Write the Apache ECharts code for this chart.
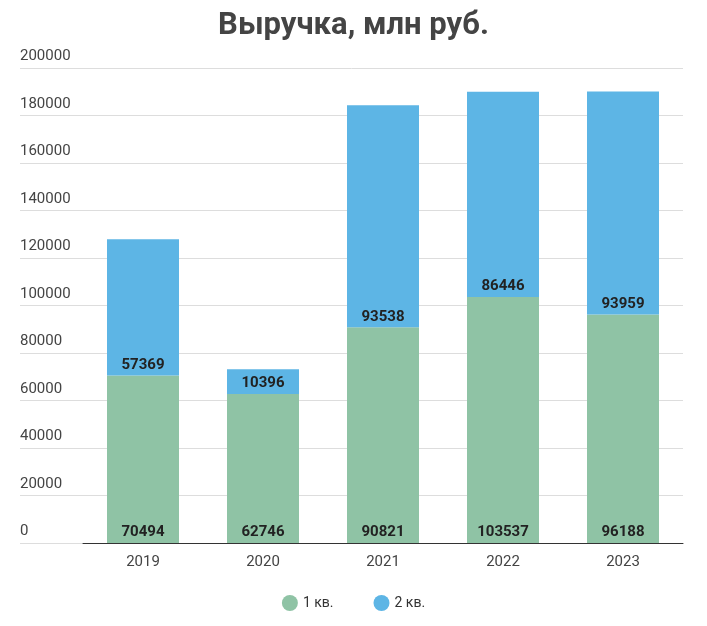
<!DOCTYPE html>
<html><head><meta charset="utf-8">
<script src="https://cdn.jsdelivr.net/npm/echarts@6/dist/echarts.min.js"></script>
<style>html,body{margin:0;background:#fff}#c{width:707px;height:626px}</style>
</head><body><div id="c"></div>
<script>
var years = ['2019', '2020', '2021', '2022', '2023'];
var q1 = [70494, 62746, 90821, 103537, 96188];
var q2 = [57369, 10396, 93538, 86446, 93959];

var chart = echarts.init(document.getElementById('c'));
var lbl = { show: true, position: 'insideBottom', color: '#222', fontSize: 15, fontWeight: 'bold', fontFamily: 'Roboto', distance: 3 };
chart.setOption({
    title: { text: 'Выручка, млн руб.', left: 'center', top: 6,
        textStyle: { fontSize: 31, fontWeight: 'bold', color: '#444', fontFamily: 'Roboto' } },
    grid: [
        { left: 83, right: 24, top: 68, bottom: 83 },
        { left: 20, right: 24, top: 68, bottom: 83 }
    ],
    legend: { bottom: 10, icon: 'circle', itemWidth: 16, itemHeight: 16, itemGap: 40,
        textStyle: { fontSize: 14, color: '#333', fontFamily: 'Roboto' } },
    xAxis: [
        { type: 'category', data: years, gridIndex: 0, z: 5,
          axisLine: { lineStyle: { color: '#333' } }, axisTick: { show: false },
          axisLabel: { color: '#444', fontSize: 15, fontFamily: 'Roboto', margin: 12 } },
        { type: 'value', gridIndex: 1, min: 0, max: 1, show: false }
    ],
    yAxis: [
        { type: 'value', gridIndex: 0, min: 0, max: 200000, interval: 20000, show: false, splitLine: { show: false } },
        { type: 'value', gridIndex: 1, min: 0, max: 200000, interval: 20000, z: 0,
          axisLine: { show: false }, axisTick: { show: false },
          splitLine: { lineStyle: { color: '#ddd' } },
          axisLabel: { inside: true, verticalAlign: 'bottom', margin: 0, color: '#444', fontSize: 15,
              fontFamily: 'Roboto', padding: [0, 0, 4, 0], formatter: function (v) { return String(v); } } }
    ],
    series: [
        { name: '1 кв.', type: 'bar', stack: 's', barWidth: 72, itemStyle: { color: '#8fc3a5' }, label: lbl, data: q1 },
        { name: '2 кв.', type: 'bar', stack: 's', barWidth: 72, itemStyle: { color: '#5db5e5' }, label: lbl, data: q2 }
    ]
});
</script></body></html>
